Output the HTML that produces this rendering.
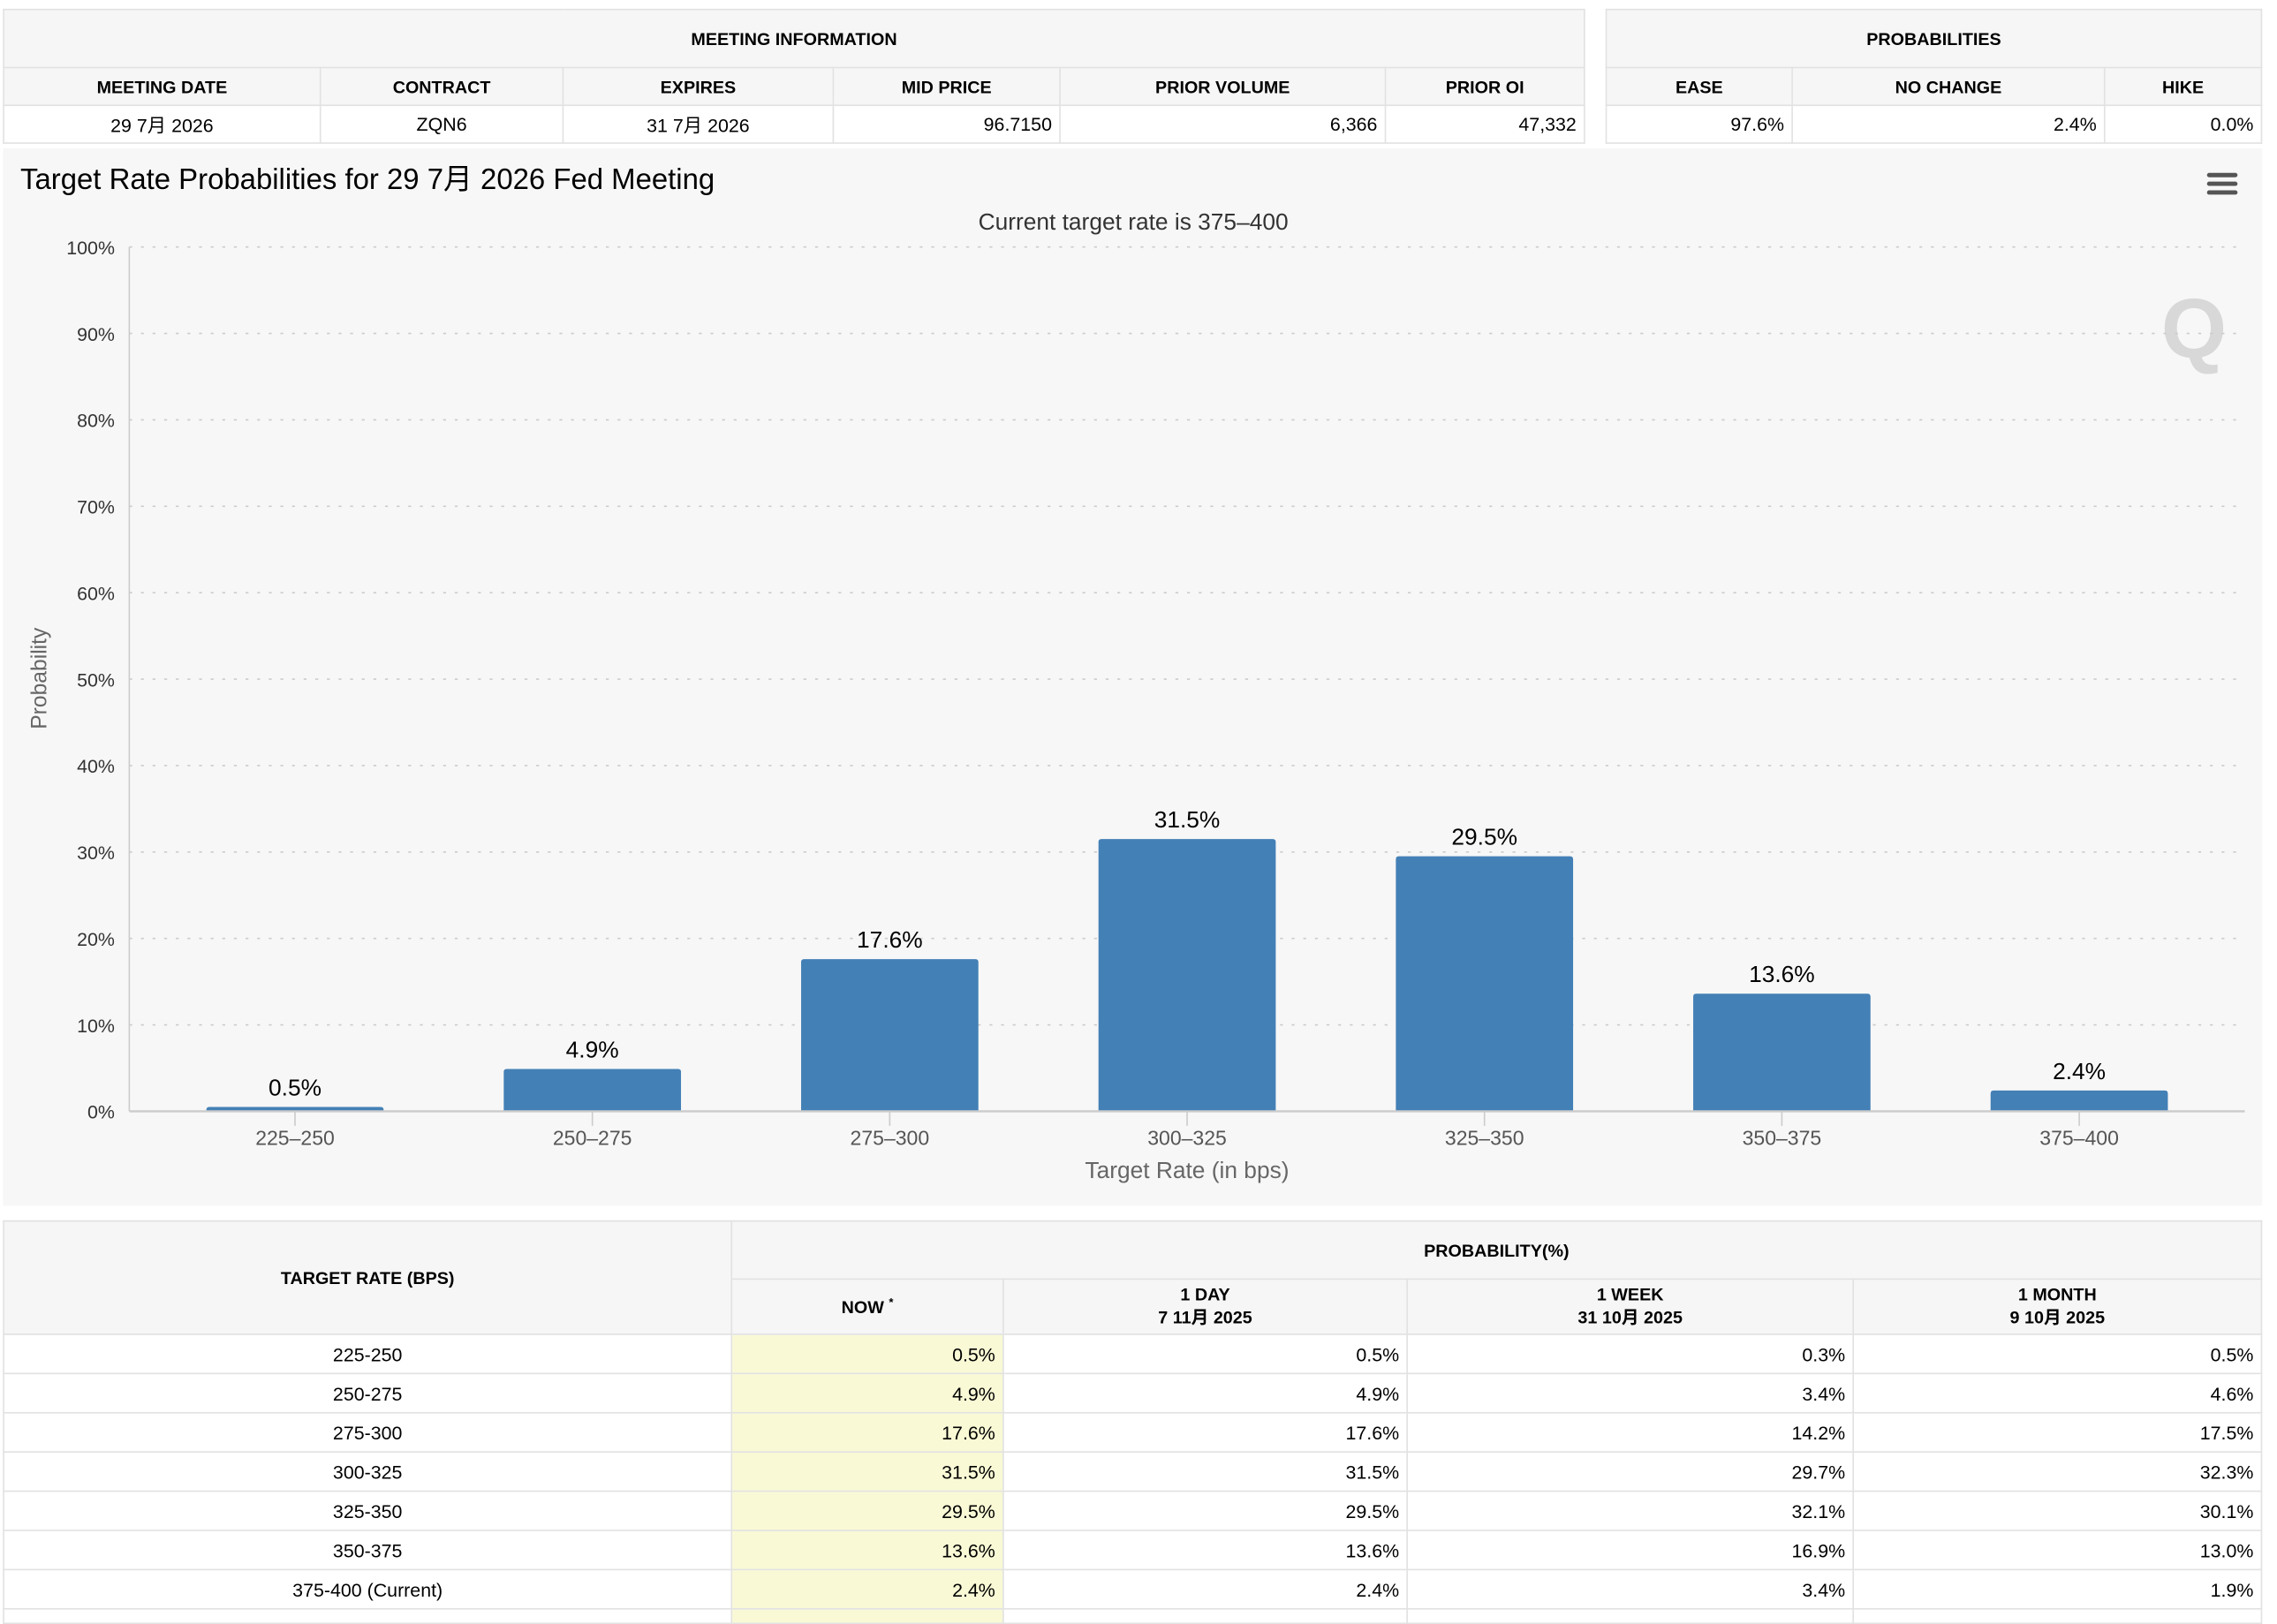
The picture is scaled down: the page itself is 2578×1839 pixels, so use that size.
<!DOCTYPE html>
<html><head><meta charset="utf-8"><style>
body{margin:0;background:#fff;width:2578px;height:1832px;overflow:hidden;font-family:"Liberation Sans","Noto Sans CJK SC",sans-serif}
#w{position:absolute;left:0;top:0;width:1567px;height:1114px;transform:scale(1.645);transform-origin:0 0}
table{position:absolute;border-collapse:collapse;font-size:13px;color:#000}
td,th{border:1px solid #e2e2e2;padding:0 5px;}
th{background:#f6f6f6;font-size:12px;font-weight:bold;text-align:center}
td{background:#fff}
.r{text-align:right}.c{text-align:center}
.now{background:#f9f9d6}
</style></head><body><div id="w">
<table style="left:2px;top:6px;width:1089px">
<tr style="height:40px"><th colspan="6">MEETING INFORMATION</th></tr>
<tr style="height:26px"><th style="width:207px">MEETING DATE</th><th style="width:156px">CONTRACT</th><th style="width:175px">EXPIRES</th><th style="width:145px">MID PRICE</th><th style="width:213px">PRIOR VOLUME</th><th>PRIOR OI</th></tr>
<tr style="height:26px"><td class="c">29 7月 2026</td><td class="c">ZQN6</td><td class="c">31 7月 2026</td><td class="r">96.7150</td><td class="r">6,366</td><td class="r">47,332</td></tr>
</table>
<table style="left:1105px;top:6px;width:452px">
<tr style="height:40px"><th colspan="3">PROBABILITIES</th></tr>
<tr style="height:26px"><th style="width:117px">EASE</th><th style="width:204px">NO CHANGE</th><th>HIKE</th></tr>
<tr style="height:26px"><td class="r">97.6%</td><td class="r">2.4%</td><td class="r">0.0%</td></tr>
</table>
<div style="position:absolute;left:2px;top:102px;width:1555px;height:728px;background:#f7f7f7"></div>
<svg id="ch" style="position:absolute;left:0;top:0" width="1562" height="840" font-family="Liberation Sans, DejaVu Sans, sans-serif">
<text x="14" y="130" font-size="20" fill="#000">Target Rate Probabilities for 29 7月 2026 Fed Meeting</text>
<text x="780" y="158" font-size="16" fill="#333" text-anchor="middle">Current target rate is 375–400</text>
<g fill="#555"><rect x="1519" y="119" width="21" height="3" rx="1.5"/><rect x="1519" y="125" width="21" height="3" rx="1.5"/><rect x="1519" y="131" width="21" height="3" rx="1.5"/></g>
<text x="1510" y="246" font-size="58" font-weight="bold" fill="#d8d8d8" text-anchor="middle">Q</text>
<text transform="translate(32,467) rotate(-90)" font-size="15" fill="#666" text-anchor="middle">Probability</text>
<text x="817" y="811" font-size="16" fill="#666" text-anchor="middle">Target Rate (in bps)</text>
<g id="grid"></g><g id="bars"></g>
<line x1="89" y1="170" x2="89" y2="765" stroke="#ccc"/>
<line x1="89" y1="765" x2="1545" y2="765" stroke="#ccc" stroke-width="1.5"/>
</svg>
<table style="left:2px;top:840px;width:1555px">
<tr style="height:40px"><th rowspan="2" style="width:490px">TARGET RATE (BPS)</th><th colspan="4">PROBABILITY(%)</th></tr>
<tr style="height:38px"><th style="width:176px">NOW <sup style="font-size:8px">*</sup></th><th style="width:267px">1 DAY<br>7 11月 2025</th><th style="width:296px">1 WEEK<br>31 10月 2025</th><th>1 MONTH<br>9 10月 2025</th></tr>
<tbody id="tb"></tbody>
</table>
</div>
<script>
const categories=["225-250","250-275","275-300","300-325","325-350","350-375","375-400"];
const nowVals=[0.5,4.9,17.6,31.5,29.5,13.6,2.4];
const dayVals=[0.5,4.9,17.6,31.5,29.5,13.6,2.4];
const weekVals=[0.3,3.4,14.2,29.7,32.1,16.9,3.4];
const monthVals=[0.5,4.6,17.5,32.3,30.1,13.0,1.9];
const yTicks=[0,10,20,30,40,50,60,70,80,90,100];
const NS="http://www.w3.org/2000/svg";
const y=v=>765-v*5.95;
const step=204.67, x0=100.7;
const xc=i=>x0+step*(i+0.5);
const grid=document.getElementById('grid'),bars=document.getElementById('bars');
function mk(t,a,p){const e=document.createElementNS(NS,t);for(const k in a)e.setAttribute(k,a[k]);p.appendChild(e);return e;}
yTicks.forEach(t=>{
  if(t>0){const l=mk('line',{x1:89,x2:1545,y1:y(t),y2:y(t),stroke:'#ccc','stroke-dasharray':'2,6'},grid);
  
  }
  const tx=mk('text',{x:79,y:y(t)+5,'font-size':13,fill:'#333','text-anchor':'end'},grid);tx.textContent=t+'%';
  
  
});
categories.forEach((c,i)=>{
  const cx=xc(i),v=nowVals[i];
  const r=mk('path',{d:`M${cx-61},765V${y(v)+2}q0,-2 2,-2H${cx+59}q2,0 2,2V765Z`,fill:'#4380b6'},bars);
  
  
  const lb=mk('text',{x:cx,y:y(v)-8,'font-size':16,fill:'#000','text-anchor':'middle'},bars);lb.textContent=v.toFixed(1)+'%';
  
  
  mk('line',{x1:cx,x2:cx,y1:765,y2:775,stroke:'#ccc'},bars);
  const xl=mk('text',{x:cx,y:788,'font-size':14,fill:'#555','text-anchor':'middle'},bars);xl.textContent=c.replace('-','–');
  
  
});
const tb=document.getElementById('tb');
categories.forEach((c,i)=>{
  const tr=document.createElement('tr');tr.style.height='27px';
  
  
  tr.innerHTML=`<td class="c">${c}${i==6?' (Current)':''}</td><td class="r now">${nowVals[i].toFixed(1)}%</td><td class="r">${dayVals[i].toFixed(1)}%</td><td class="r">${weekVals[i].toFixed(1)}%</td><td class="r">${monthVals[i].toFixed(1)}%</td>`;
  tb.appendChild(tr);
});
const tr=document.createElement('tr');tr.style.height='10px';


tr.innerHTML='<td></td><td class="now"></td><td></td><td></td><td></td>';tb.appendChild(tr);
</script>
</body></html>
